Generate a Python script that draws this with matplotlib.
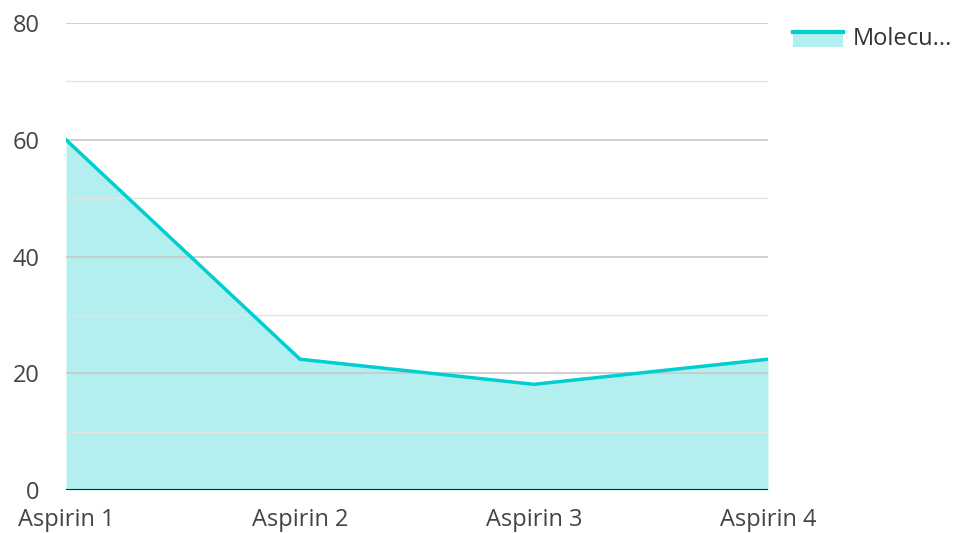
import matplotlib.pyplot as plt
from matplotlib.legend_handler import HandlerBase
from matplotlib.patches import Rectangle
from matplotlib.lines import Line2D

plt.rcParams['font.family'] = ['Open Sans', 'DejaVu Sans']

categories = ['Aspirin 1', 'Aspirin 2', 'Aspirin 3', 'Aspirin 4']
values = [60, 22.4, 18.1, 22.4]
series_name = 'Molecu...'
y_ticks = [0, 20, 40, 60, 80]
minor_ticks = [10, 30, 50, 70]

line_color = '#00CED1'
fill_color = '#B2EFEE'


class AreaHandler(HandlerBase):
    def create_artists(self, legend, orig_handle, xdescent, ydescent,
                       width, height, fontsize, trans):
        rect = Rectangle((-xdescent, -ydescent - 2), width, height * 0.8 + 2,
                         facecolor=fill_color, edgecolor='none', transform=trans)
        line = Line2D([-xdescent, -xdescent + width],
                      [-ydescent + height * 0.8] * 2,
                      color=line_color, lw=3, transform=trans)
        return [rect, line]


fig = plt.figure(figsize=(9.58, 5.33), dpi=100)
ax = fig.add_axes([0.0689, 0.0807, 0.7328, 0.8761])

x = list(range(len(categories)))
ax.fill_between(x, values, 0, color=fill_color, lw=0, zorder=1)
area, = ax.plot(x, values, color=line_color, lw=2.5, zorder=3,
                solid_joinstyle='miter')

for t in minor_ticks:
    ax.axhline(t, color='#E3E3E3', lw=1, zorder=2)
for t in y_ticks[1:]:
    ax.axhline(t, color='#C8C8C8', lw=1.2, zorder=2)
ax.axhline(0, color='#222222', lw=1.5, zorder=4)

ax.set_xlim(0, len(categories) - 1)
ax.set_ylim(0, 80)
ax.set_xticks(x)
ax.set_xticklabels(categories)
ax.set_yticks(y_ticks)
ax.tick_params(axis='both', length=0, labelsize=17, colors='#444444')
ax.tick_params(axis='y', pad=19)
ax.tick_params(axis='x', pad=13)
for s in ax.spines.values():
    s.set_visible(False)

ax.legend([area], [series_name], handler_map={area: AreaHandler()},
          loc='upper left', bbox_to_anchor=(793 / 958, 1 - 27 / 533),
          bbox_transform=fig.transFigure, frameon=False, borderpad=0,
          borderaxespad=0, fontsize=17, handlelength=2.1, handleheight=0.65,
          handletextpad=0.42, labelcolor='#333333')

fig.savefig('out.png', dpi=100)
